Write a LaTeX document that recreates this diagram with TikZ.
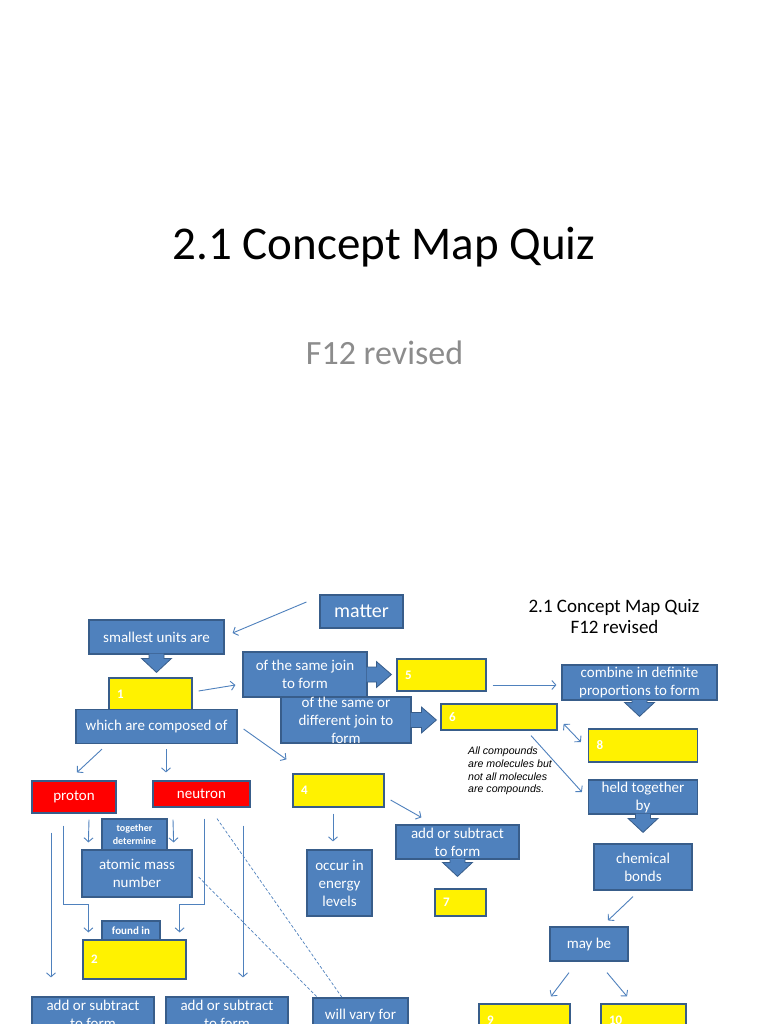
\documentclass[tikz,border=0pt]{standalone}
\usepackage{fontspec}
\setmainfont{Carlito}
\newfontfamily\notefont{Liberation Sans}
\usepackage{tikz}
\usetikzlibrary{arrows.meta,calc}
\definecolor{boxblue}{HTML}{4F81BD}
\definecolor{boxedge}{HTML}{385D8A}
\definecolor{subgray}{HTML}{8C8C8C}
\tikzset{concept/.style={draw=boxedge,fill=boxblue,text=white,line width=1.2pt,align=center,inner xsep=3pt,inner ysep=0pt,font=\fontsize{15}{18}\selectfont},
  particle/.style={concept,fill=red},
  blank/.style={draw=boxedge,fill=yellow,text=white,line width=1.2pt,align=left,inner xsep=8pt,inner ysep=2pt,font=\fontsize{13}{15}\selectfont\bfseries},
  arr/.style={draw=boxblue,line width=0.9pt,-{Straight Barb[length=4pt,width=9pt]}},
  guide/.style={draw=boxblue,line width=0.7pt,dash pattern=on 3pt off 2pt},
  fat/.style={fill=boxblue,draw=boxedge,line width=0.8pt,line join=miter}}
% block arrows: source, target, gap before target
\newcommand{\fatdown}[3]{\path[fat] let \p1=(#1.south), \p2=(#2.north) in
  (\x1-7.5pt,\y1+1pt) -- (\x1-7.5pt,\y2+#3+14pt) -- (\x1-15pt,\y2+#3+14pt) -- (\x1,\y2+#3)
  -- (\x1+15pt,\y2+#3+14pt) -- (\x1+7.5pt,\y2+#3+14pt) -- (\x1+7.5pt,\y1+1pt);}
\newcommand{\fatright}[3]{\path[fat] let \p1=(#1.east), \p2=(#2.west) in
  (\x1-1pt,\y1+7.5pt) -- (\x2-#3-15pt,\y1+7.5pt) -- (\x2-#3-15pt,\y1+13pt) -- (\x2-#3,\y1)
  -- (\x2-#3-15pt,\y1-13pt) -- (\x2-#3-15pt,\y1-7.5pt) -- (\x1-1pt,\y1-7.5pt);}

\begin{document}
\begin{tikzpicture}[x=1pt,y=-1pt]
\useasboundingbox (0,0) rectangle (768,1024);
\fill[white] (0,0) rectangle (768,1024);
\clip (0,0) rectangle (768,1024);

% slide title
\node[anchor=base,font=\fontsize{47}{56}\selectfont] (title) at (384,259) {2.1 Concept Map Quiz};
\node[anchor=base,text=subgray,font=\fontsize{34}{40}\selectfont] (subtitle) at (384.5,364) {F12 revised};

% map heading
\node[anchor=base,font=\fontsize{19}{22}\selectfont] (maptitle) at (614,612) {2.1 Concept Map Quiz};
\node[anchor=base,font=\fontsize{19}{22}\selectfont] (mapsub) at (614.5,633) {F12 revised};

% left branch
\node[concept,minimum width=83pt,minimum height=33pt,font=\fontsize{20}{24}\selectfont] (matter) at (361.5,611.5) {matter};
\node[concept,minimum width=135pt,minimum height=34pt] (units) at (156.5,637) {smallest units are};
\node[blank,text width=67pt,minimum height=32pt] (one) at (150.5,694) {1};
\node[concept,minimum width=161pt,minimum height=34pt] (composed) at (156.5,726.5) {which are composed of};
\node[particle,minimum width=84pt,minimum height=32pt] (proton) at (74,797) {proton};
\node[particle,minimum width=97pt,minimum height=26pt] (neutron) at (201.5,794) {neutron};
\node[concept,minimum width=110pt,minimum height=47pt] (atomic) at (137,873.5) {atomic mass\\number};
\node[concept,minimum width=65pt,minimum height=31pt,font=\fontsize{10}{13}\selectfont\bfseries] (together) at (134.5,834.5) {together\\determine};
\node[blank,text width=87pt,minimum height=39pt] (two) at (134.5,959.5) {2};
\node[concept,minimum width=58pt,minimum height=19pt,font=\fontsize{11}{13}\selectfont\bfseries] (found) at (131,930.5) {found in};
\node[concept,minimum width=122pt,minimum height=34pt] (addL) at (93,1014) {add or subtract\\to form};
\node[concept,minimum width=122pt,minimum height=34pt] (addM) at (227,1014) {add or subtract\\to form};
\node[concept,minimum width=95pt,minimum height=34pt] (willvary) at (360.5,1015) {will vary for};

% middle branch
\node[concept,minimum width=124pt,minimum height=45pt] (same) at (305,674.5) {of the same join\\to form};
\node[blank,text width=73pt,minimum height=32pt] (five) at (441.5,675) {5};
\node[concept,minimum width=130pt,minimum height=46pt,inner ysep=-2.5pt] (samediff) at (346,720) {of the same or\\different join to\\form};
\node[blank,text width=100pt,minimum height=26pt] (six) at (499,717) {6};
\node[blank,text width=75pt,minimum height=33pt] (four) at (338.5,790.5) {4};
\node[concept,minimum width=65pt,minimum height=66pt] (energy) at (339.5,883) {occur in\\energy\\levels};
\node[concept,minimum width=123pt,minimum height=34pt] (addR) at (457.5,842) {add or subtract\\to form};
\node[blank,text width=35pt,minimum height=27pt] (seven) at (460.5,902.5) {7};

% right branch
\node[concept,minimum width=155pt,minimum height=35pt] (combine) at (639.5,682.5) {combine in definite\\proportions to form};
\node[blank,text width=93pt,minimum height=33pt] (eight) at (643,745.5) {8};
\node[anchor=north west,inner sep=0pt,align=left,font=\notefont\itshape\fontsize{10.6}{12.6}\selectfont] (note) at (468,747) {All compounds\\are molecules but\\not all molecules\\are compounds.};
\node[concept,minimum width=109pt,minimum height=34pt] (held) at (643,797) {held together\\by};
\node[concept,minimum width=98pt,minimum height=46pt] (chem) at (643,867) {chemical\\bonds};
\node[concept,minimum width=78pt,minimum height=34pt] (maybe) at (589,944) {may be};
\node[blank,text width=75pt,minimum height=33pt] (nine) at (524.5,1020.5) {9};
\node[blank,text width=69pt,minimum height=33pt] (ten) at (643.5,1020.5) {10};

% block arrows
\fatdown{units}{one}{5pt}
\fatright{same}{five}{5pt}
\fatright{samediff}{six}{4pt}
\fatdown{combine}{eight}{12pt}
\fatdown{held}{chem}{11pt}
\fatdown{addR}{seven}{12pt}

% thin arrows
\draw[arr] ([shift={(-13,-9.5)}]matter.west) -- ([shift={(8,-4)}]units.east);
\draw[arr] ([shift={(6,-3)}]one.east) -- ([shift={(-7,10.5)}]same.west);
\draw[arr] ([shift={(-54.5,5)}]composed.south) -- ([shift={(3,-8)}]proton.north);
\draw[arr] ([shift={(9.5,5)}]composed.south) -- ([shift={(-35.5,-8)}]neutron.north);
\draw[arr] ([shift={(6,2.5)}]composed.east) -- ([shift={(-6,-14)}]four.north west);
\draw[arr] ([shift={(6,10)}]five.east) -- ([shift={(-5,2.5)}]combine.west);
\draw[arr,{Straight Barb[length=4pt,width=9pt]}-{Straight Barb[length=4pt,width=9pt]}] ([shift={(6,7)}]six.east) -- ([shift={(-7,-3.5)}]eight.west);
\draw[arr] ([shift={(32,5)}]six.south) -- ([shift={(-6,-5)}]held.west);
\draw[arr] ([shift={(-10,6)}]chem.south) -- ([shift={(19,-6)}]maybe.north);
\draw[arr] ([shift={(-20,11)}]maybe.south) -- ([shift={(26.5,-7)}]nine.north);
\draw[arr] ([shift={(18,11)}]maybe.south) -- ([shift={(-16.5,-7)}]ten.north);
\draw[arr] ([shift={(-5.5,6)}]four.south) -- ([shift={(-6.5,-8)}]energy.north);
\draw[arr] ([shift={(6,9.5)}]four.east) -- ([shift={(26,-7)}]addR.north west);
\draw[arr] ([shift={(15,6)}]proton.south) -- ([shift={(7,-7)}]atomic.north west);
\draw[arr] ([shift={(-28.5,12)}]neutron.south) -- ([shift={(-19,-7)}]atomic.north east);
\draw[arr] ([shift={(-11,12)}]proton.south) |- ([shift={(6,-35)}]two.north west) -- ([shift={(6,-7)}]two.north west);
\draw[arr] ([shift={(2.5,11)}]neutron.south) |- ([shift={(-7,-35)}]two.north east) -- ([shift={(-7,-7)}]two.north east);
\draw[arr] ([shift={(-23,19)}]proton.south) -- ([shift={(-42,-19)}]addL.north);
\draw[arr] ([shift={(41.5,18)}]neutron.south) -- ([shift={(16,-19)}]addM.north);

% dashed guides
\draw[guide] ([shift={(15.5,11)}]neutron.south) -- ([shift={(-18.5,0)}]willvary.north);
\draw[guide] ([shift={(6,3.5)}]atomic.east) -- ([shift={(5,0)}]willvary.north west);
\end{tikzpicture}
\end{document}
